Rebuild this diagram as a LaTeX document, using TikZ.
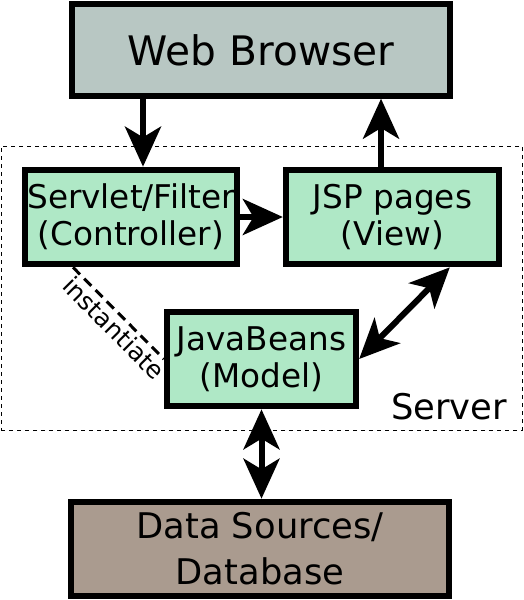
\documentclass[tikz,border=0pt]{standalone}
\usepackage{fontspec}
\setmainfont{DejaVu Sans}
\usetikzlibrary{arrows.meta,calc}
\definecolor{browserfill}{RGB}{184,199,195}
\definecolor{greenfill}{RGB}{175,232,198}
\definecolor{datafill}{RGB}{170,155,143}
\begin{document}
\begin{tikzpicture}[x=0.75pt,y=-0.75pt,
  box/.style={draw=black,line width=4.5pt,inner sep=0pt,align=center},
  greenbox/.style={box,fill=greenfill,minimum height=71pt,font=\fontsize{24.5}{28}\selectfont},
  arr/.style={line width=4.5pt,-{Stealth[length=30pt,width=27pt,inset=8pt]}},
  darr/.style={line width=4.5pt,{Stealth[length=30pt,width=27pt,inset=8pt]}-{Stealth[length=30pt,width=27pt,inset=8pt]}}]
\useasboundingbox (0,0) rectangle (524,600);
\node[draw=black,dashed,line width=0.75pt,minimum width=390.75pt,minimum height=213pt,inner sep=0pt] (server) at (261.5,288) {};
\node[box,fill=browserfill,minimum width=283pt,minimum height=68.5pt,font=\fontsize{30.5}{36}\selectfont] (browser) at (261,50) {Web Browser};
\node[greenbox,minimum width=159.5pt] (servlet) at (131,217) {Servlet/Filter\\(Controller)};
\node[greenbox,minimum width=160pt] (jsp) at (392.5,217) {JSP pages\\(View)};
\node[greenbox,minimum width=142pt] (beans) at (261.5,359) {JavaBeans\\(Model)};
\node[box,fill=datafill,minimum width=284pt,minimum height=71pt,font=\fontsize{26.5}{34.5}\selectfont] (data) at (260,549) {Data Sources/\\Database};
\node[font=\fontsize{26.5}{32}\selectfont,anchor=center] (serverlabel) at (449,407) {Server};
\coordinate (a1) at ([xshift=9pt]servlet.north);
\draw[arr] (a1 |- browser.south) -- (a1);
\coordinate (a2) at ([xshift=-8.6pt]jsp.north);
\draw[arr] (a2) -- (a2 |- browser.south);
\draw[arr] (servlet.east) -- (jsp.west);
\coordinate (a3) at ([xshift=43pt]jsp.south);
\draw[darr] (a3) -- (beans.east);
\draw[darr] (beans.south) -- (beans.south |- data.north);
\coordinate (a4) at ([xshift=-43.5pt]servlet.south);
\draw[line width=2.25pt,dash pattern=on 7.5pt off 4.5pt] (a4) -- (beans.west)
  node[pos=0.56,sloped,below,inner sep=2pt,font=\fontsize{18.5}{22}\selectfont] {instantiate};
\end{tikzpicture}
\end{document}
